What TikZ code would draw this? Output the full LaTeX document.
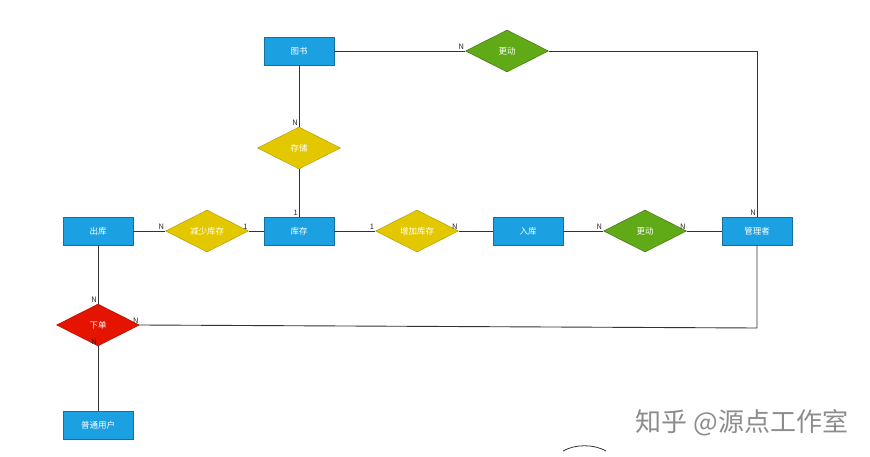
\documentclass[tikz,border=0pt]{standalone}
\usepackage{fontspec}
\setmainfont{Noto Sans CJK SC}
\usetikzlibrary{shapes.geometric,positioning}
\definecolor{entblue}{HTML}{1BA1E2}
\definecolor{relyellow}{HTML}{E3C800}
\definecolor{relgreen}{HTML}{60A917}
\definecolor{relred}{HTML}{E51400}

\begin{document}
\begin{tikzpicture}[x=1pt,y=-1pt,font=\fontsize{8.5}{9}\selectfont,
  ent/.style={draw=entblue!70!black,fill=entblue,text=white,minimum width=70pt,minimum height=28pt,inner sep=0pt},
  rel/.style={diamond,draw,text=white,minimum width=83pt,minimum height=42pt,inner sep=0pt,aspect=2},
  chg/.style={rel,fill=relgreen,draw=relgreen!60!black},
  upd/.style={rel,fill=relyellow,draw=relyellow!75!black},
  ord/.style={rel,fill=relred,draw=relred!70!black},
  lnk/.style={draw=black!80,line width=0.9pt},
  lbl/.style={above left,inner sep=0.8pt,font=\fontsize{7.5}{8}\selectfont,text=black!85}]
\useasboundingbox (0,0) rectangle (870,457);
\node[ent] (tushu) at (299,51) {图书};
\node[chg] (gd1) at (507,51) {更动};
\node[upd] (cc) at (299,148) {存储};
\node[ent] (kc) at (299,231) {库存};
\node[ent] (chuku) at (98,231) {出库};
\node[upd] (jskc) at (207,231) {减少库存};
\node[upd] (zjkc) at (417,231) {增加库存};
\node[ent] (ruku) at (528,231) {入库};
\node[chg] (gd2) at (645,231) {更动};
\node[ent] (gly) at (757,231) {管理者};
\node[ord] (xd) at (98,325) {下单};
\node[ent] (yh) at (98,425) {普通用户};
\coordinate (corner) at (757,328);
\draw[lnk] (tushu) -- node[lbl,pos=1] {N} (gd1.west);
\draw[lnk] (gd1.east) -| node[lbl,pos=1] {N} (gly.north);
\draw[lnk] (tushu) -- node[lbl,pos=1] {N} (cc.north);
\draw[lnk] (cc) -- node[lbl,pos=1] {1} (kc.north);
\draw[lnk] (chuku) -- node[lbl,pos=1] {N} (jskc.west);
\draw[lnk] (jskc.east) -- node[lbl,pos=0] {1} (kc);
\draw[lnk] (kc) -- node[lbl,pos=1] {1} (zjkc.west);
\draw[lnk] (zjkc.east) -- node[lbl,pos=0] {N} (ruku);
\draw[lnk] (ruku) -- node[lbl,pos=1] {N} (gd2.west);
\draw[lnk] (gd2.east) -- node[lbl,pos=0] {N} (gly);
\draw[lnk] (chuku) -- node[lbl,pos=1] {N} (xd.north);
\draw[lnk] (xd.east) -- node[lbl,pos=0] {N} (corner) -- (gly.south);
\draw[lnk] (xd.south) -- node[lbl,pos=0] {N} (yh);
% watermark and stray stroke at the bottom
\node[text=black!45,font=\fontsize{26}{28}\selectfont] (wm) at (742,423) {知乎 @源点工作室};
\draw[black!80,line width=0.8pt] (563,451) .. controls (575,444) and (594,444) .. (606,451);
\end{tikzpicture}
\end{document}
